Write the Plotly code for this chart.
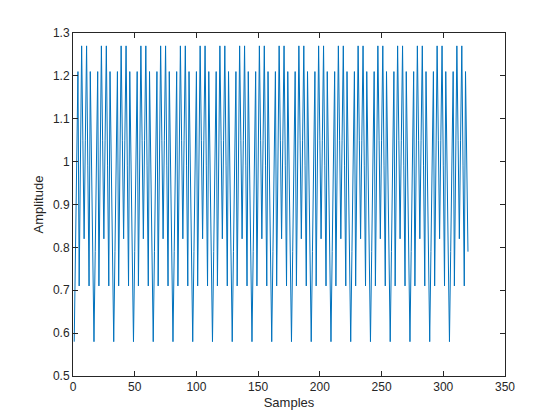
import numpy as np
import plotly.graph_objs as go

# one period of the signal (16 samples)
period = [0.58, 0.79, 1.00, 1.21, 0.71, 0.99, 1.27, 1.05,
          0.82, 1.05, 1.27, 0.99, 0.71, 1.21, 1.00, 0.79]
n_periods = 20
samples = list(range(1, 16 * n_periods + 1))
amplitude = period * n_periods

x_ticks = [0, 50, 100, 150, 200, 250, 300, 350]
y_ticks = [0.5, 0.6, 0.7, 0.8, 0.9, 1.0, 1.1, 1.2, 1.3]
y_labels = ["0.5", "0.6", "0.7", "0.8", "0.9", "1", "1.1", "1.2", "1.3"]

fig = go.Figure(go.Scatter(x=samples, y=amplitude, mode="lines",
                           line=dict(color="#0072BD", width=1)))

axis = dict(showgrid=False, zeroline=False, showline=True, mirror="ticks",
            linecolor="#262626", linewidth=1, ticks="inside", ticklen=5,
            tickcolor="#262626", tickfont=dict(size=12, color="#262626"))
fig.update_xaxes(range=[0, 350], tickvals=x_ticks, title=dict(text="Samples", standoff=4,
                 font=dict(size=13, color="#262626")), **axis)
fig.update_yaxes(range=[0.5, 1.3], tickvals=y_ticks, ticktext=y_labels,
                 title=dict(text="Amplitude", standoff=6, font=dict(size=13, color="#262626")), **axis)
fig.update_layout(width=560, height=420, plot_bgcolor="white", paper_bgcolor="white",
                  font=dict(family="Liberation Sans, Arial"),
                  margin=dict(l=65, r=63, t=25, b=52), showlegend=False)
fig.write_html("out.html")
